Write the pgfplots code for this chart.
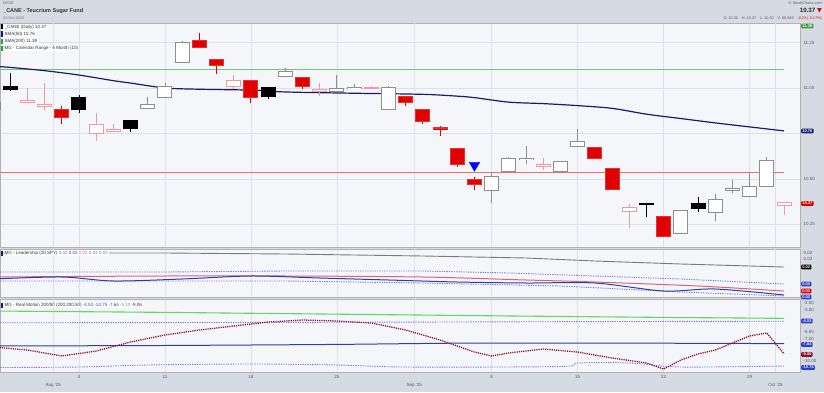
\documentclass[border=0pt]{standalone}
\usepackage{pgfplots}
\pgfplotsset{compat=1.18}
\usepackage{pgfplotstable}
\usepackage{fontspec}
\setmainfont{Liberation Sans}
\newfontfamily\djv{DejaVu Sans}
\definecolor{hdr}{HTML}{D6DAE2}
\definecolor{pbg}{HTML}{F5F6FA}
\definecolor{grd}{HTML}{DDE0E7}
\definecolor{navy}{HTML}{1B1B6B}
\definecolor{cgreen}{HTML}{78C078}
\definecolor{cred}{HTML}{E87070}
\definecolor{candred}{HTML}{E00000}
\definecolor{candredb}{HTML}{E83030}
\definecolor{candpink}{HTML}{EE9AA2}
\definecolor{candgrey}{HTML}{8E8E8E}
\definecolor{ldgrey}{HTML}{7A7A7A}
\definecolor{lblue}{HTML}{2B3FA8}
\definecolor{lred}{HTML}{E0607A}
\definecolor{ldot}{HTML}{7070E0}
\definecolor{rmgreen}{HTML}{66D466}
\definecolor{maroon}{HTML}{8B1030}
\definecolor{txtgrey}{HTML}{555A66}
\definecolor{tagblue}{HTML}{2A3FD0}
\definecolor{taggreen}{HTML}{3E9A3E}

\pgfplotstableread{
i O H L C
-4 11.01 11.08 10.985 10.99
0 10.95 10.96 10.86 10.88
3 10.82 10.82 10.76 10.78
11 11.00 11.00 10.94 10.955
33 10.365 10.365 10.29 10.358
36 10.365 10.40 10.32 10.34
}\blackc
\pgfplotstableread{
i O H L C
-1 10.88 10.90 10.80 10.835
7 11.26 11.30 11.22 11.225
8 11.155 11.16 11.075 11.125
10 11.04 11.045 10.92 10.945
13 11.06 11.06 10.995 11.01
19 10.955 10.955 10.90 10.92
20 10.88 10.88 10.80 10.815
21 10.78 10.79 10.735 10.77
22 10.67 10.67 10.565 10.58
23 10.495 10.51 10.44 10.467
30 10.675 10.675 10.61 10.615
31 10.56 10.56 10.44 10.44
34 10.295 10.295 10.18 10.185
}\redc
\pgfplotstableread{
i O H L C
-3 10.92 11.00 10.92 10.93
-2 10.90 11.03 10.88 10.91
1 10.75 10.86 10.71 10.80
2 10.76 10.80 10.76 10.77
9 11.01 11.07 10.995 11.04
14 10.98 11.03 10.955 10.99
17 10.995 11.01 10.995 11.00
27 10.57 10.615 10.55 10.58
32 10.32 10.36 10.23 10.345
41 10.355 10.37 10.30 10.37
}\pinkc
\pgfplotstableread{
i O H L C
-5 10.88 10.93 10.87 10.92
4 10.885 10.95 10.885 10.91
5 10.95 11.03 10.95 11.01
6 11.14 11.26 11.14 11.25
12 11.065 11.11 11.065 11.09
15 10.98 11.07 10.98 10.995
16 10.995 11.02 10.995 11.005
18 10.88 11.01 10.88 11.00
24 10.435 10.53 10.37 10.515
25 10.54 10.62 10.54 10.61
26 10.605 10.68 10.58 10.615
28 10.54 10.60 10.53 10.595
29 10.68 10.775 10.68 10.705
35 10.20 10.33 10.195 10.325
37 10.315 10.42 10.27 10.385
38 10.435 10.495 10.425 10.45
39 10.405 10.53 10.40 10.46
40 10.46 10.62 10.455 10.60
}\greyc

\newcommand\tf{\fontsize{4.5}{5}\selectfont}
\newcommand\candleset[4]{%
\addplot[draw=none, mark=none, forget plot, error bars/.cd, y dir=plus, y explicit, error mark=none,
  error bar style={draw=#2, line width=0.9pt, solid}]
  table[x=i, y=L, y error plus expr={\thisrow{H}-\thisrow{L}}] {#1};
\addplot[draw=none, mark=none, forget plot, error bars/.cd, y dir=plus, y explicit, error mark=none,
  error bar style={draw=#3, line width=15pt, solid}]
  table[x=i, y expr={min(\thisrow{O},\thisrow{C})-0.0028}, y error plus expr={abs(\thisrow{C}-\thisrow{O})+0.0056}] {#1};
\addplot[draw=none, mark=none, forget plot, error bars/.cd, y dir=plus, y explicit, error mark=none,
  error bar style={draw=#4, line width=13pt, solid}]
  table[x=i, y expr={min(\thisrow{O},\thisrow{C})+0.0028}, y error plus expr={max(abs(\thisrow{C}-\thisrow{O})-0.0056,0)}] {#1};
}

\pgfplotsset{
  panel/.style={scale only axis, width=800pt, xmin=-4.593, xmax=41.93,
    axis background/.style={fill=pbg}, axis line style={draw=gray!60, line width=0.5pt},
    xtick={0,5,10,15,24,29,34,39}, extra x ticks={-1.5,19.5,40.5},
    xmajorgrids, major grid style={draw=grd, line width=0.6pt},
    extra x tick style={grid=major, major grid style={draw=grd, line width=0.6pt}},
    tick style={draw=none}, yticklabel pos=right,
    ticklabel style={font=\tf, text=txtgrey},
    scaled y ticks=false,
    /pgf/number format/assume math mode=true, /pgf/number format/fixed,
    /pgf/number format/fixed zerofill, /pgf/number format/precision=2, clip=true},
}
\tikzset{
  tag/.style={fill=#1, text=white, font=\fontsize{4}{4.5}\selectfont\bfseries, inner xsep=1.2pt, inner ysep=1pt, rounded corners=1pt, anchor=west},
  lg/.style={anchor=west, fill=white, inner xsep=1pt, inner ysep=0.7pt, font=\tf, text=black!80}
}

\begin{document}
\begin{tikzpicture}[x=1pt,y=1pt]
\fill[hdr] (0,0) rectangle (824,392);

% ---------------- main price panel
\begin{axis}[panel, at={(0pt,145pt)}, anchor=south west, height=224pt,
  ymin=10.126, ymax=11.357, ytick={10.25,10.5,10.75,11,11.25},
  yticklabels={10.25,10.50,{},11.00,11.25}, ymajorgrids,
  xticklabels={}, extra x tick labels={}]
\addplot[cgreen, line width=1.3pt] coordinates {(-4.6,11.10) (41,11.10)};
\addplot[cred, line width=0.9pt] coordinates {(-4.6,10.533) (41,10.533)};
\addplot[navy, line width=1.2pt, smooth] coordinates {
(-5,11.12) (-4,11.113) (-2,11.095) (0,11.071) (2,11.04) (3,11.027) (5,11.00) (7,10.993)
(10,10.988) (12,10.978) (16,10.971) (20,10.965) (22,10.955) (23,10.947) (25,10.922)
(27,10.914) (29,10.903) (31,10.888) (33,10.856) (35,10.832) (37,10.808) (39,10.786) (41,10.764)};
\candleset{\greyc}{candgrey}{candgrey}{white}
\candleset{\pinkc}{candpink}{candpink}{white}
\candleset{\redc}{candred}{candredb}{candred}
\candleset{\blackc}{black}{black}{black}
\addplot[only marks, mark=triangle*, mark size=6pt, mark options={rotate=180, fill=blue, draw=blue}] coordinates {(23,10.575)};
\end{axis}

% ---------------- leadership panel
\begin{axis}[panel, at={(0pt,95pt)}, anchor=south west, height=48pt,
  ymin=0.0170, ymax=0.0218, ytick={0.0208,0.0214}, yticklabels={0.02,0.02},
  xticklabels={}, extra x tick labels={}]
\addplot[ldgrey, line width=0.9pt] coordinates {(-5,0.0214) (5,0.0214) (12,0.0213) (20,0.0211) (26,0.0209) (30,0.0206) (35,0.0203) (41,0.0200)};
\addplot[ldot, line width=0.9pt, dash pattern=on 1.2pt off 1.2pt] coordinates {(-5,0.0195) (5,0.0195) (12,0.0196) (20,0.0196) (25,0.0194) (30,0.0191) (35,0.0188) (41,0.0183)};
\addplot[ldot, line width=0.9pt, dash pattern=on 1.2pt off 1.2pt] coordinates {(-5,0.0186) (5,0.0186) (12,0.0186) (20,0.0184) (28,0.0181) (35,0.0175) (41,0.0171)};
\addplot[lred, line width=1pt, smooth] coordinates {(-5,0.0190) (5,0.0191) (12,0.0191) (20,0.0190) (26,0.0187) (30,0.0185) (36,0.0181) (41,0.0176)};
\addplot[lblue, line width=1pt, smooth] coordinates {(-5,0.0188) (-1,0.0190) (2,0.0186) (6,0.0188) (10,0.0191) (14,0.0189) (18,0.0187) (22,0.0185) (26,0.0184) (30,0.0184) (34,0.0176) (37,0.0178) (41,0.0172)};
\end{axis}

% ---------------- real motion panel
\begin{axis}[panel, at={(0pt,20pt)}, anchor=south west, height=73pt,
  ymin=-11.583, ymax=-1.444, ytick={-10,-7,-6,-3,-2},
  xticklabels={4,11,18,25,8,15,22,29},
  extra x tick labels={Aug '25,Sep '25,Oct '25},
  extra x tick style={xticklabel style={yshift=-8pt}},
  x tick label style={font=\tf, text=txtgrey}]
\addplot[rmgreen, line width=1.1pt] coordinates {(-5,-3.11) (5,-3.30) (15,-3.55) (25,-3.80) (35,-4.02) (41,-4.13)};
\addplot[ldot, line width=0.9pt, dash pattern=on 1.2pt off 1.2pt] coordinates {(-5,-4.75) (10,-4.70) (20,-4.65) (30,-4.58) (41,-4.53)};
\addplot[lblue, line width=1pt, smooth] coordinates {(-5,-7.97) (5,-7.90) (15,-7.75) (22,-7.58) (30,-7.56) (41,-7.64)};
\addplot[ldot, line width=0.9pt, dash pattern=on 1.2pt off 1.2pt, smooth] coordinates {(-5,-10.96) (0,-10.89) (4,-10.61) (10,-10.47) (15,-10.61) (19,-10.89) (28,-10.82) (29,-10.33) (32,-10.33) (35,-10.89) (41,-10.75)};
\addplot[maroon, line width=1.3pt, dash pattern=on 1.2pt off 1pt] coordinates {
(-5,-8.11) (-3,-8.53) (-1,-9.36) (1,-8.67) (3,-7.42) (5,-6.44) (7,-5.75) (9,-5.19) (11,-4.64)
(13,-4.36) (15,-4.50) (17,-4.78) (19,-5.75) (21,-7.14) (23,-8.81) (24,-9.36) (25,-8.94) (27,-8.39)
(29,-8.81) (31,-9.64) (33,-10.33) (34,-11.17) (35,-9.92) (36,-9.08) (37,-8.53) (38,-7.56) (39,-6.58) (40,-6.17) (41,-9.06)};
\end{axis}

% ---------------- panel legends
\node[lg] at (3.5,365) {\_CANE (Daily) 10.37};
\fill[black] (1,362.5) rectangle (2.6,367.5);
\node[lg] at (3.5,358) {SMA(50) 10.76};
\fill[navy] (1,355.5) rectangle (2.6,360.5);
\node[lg] at (3.5,350.7) {SMA(200) 11.39};
\fill[taggreen] (1,348.2) rectangle (2.6,353.2);
\node[lg] at (3.5,343.3) {MG - Calendar Range - 6 Month (10)};
\fill[taggreen] (1,340.8) rectangle (2.6,345.8);

\node[lg] at (3.5,139) {MG - Leadership (20,SPY) \textcolor{ldot}{0.02} \textcolor{lblue}{0.02} \textcolor{lred}{0.02} \textcolor{ldgrey}{0.02} \textcolor{ldgrey}{0.02}};
\fill[navy] (1,136.5) rectangle (2.6,141.5);
\node[lg] at (3.5,86.5) {MG - Real Motion 200/50 (200,200,50) \textcolor{tagblue}{-4.53} \textcolor{tagblue}{-10.75} \textcolor{tagblue}{-7.64} \textcolor{rmgreen!80!black}{-4.13} \textcolor{maroon}{-9.06}};
\fill[navy] (1,84) rectangle (2.6,89);

% ---------------- right-hand value tags
\node[tag=taggreen] at (801,366) {11.39};
\node[tag=navy] at (801,261) {10.76};
\node[tag=candred] at (801,188.5) {10.37};
\node[tag=black] at (801,125) {0.02};
\node[tag=tagblue] at (801,108) {0.02};
\node[tag=candred] at (801,101) {0.02};
\node[tag=tagblue] at (801,95) {0.02};
\node[tag=tagblue] at (801,71) {-4.53};
\node[tag=tagblue] at (801,47.5) {-7.64};
\node[tag=maroon] at (801,37.5) {-9.06};
\node[tag=tagblue] at (801,24.5) {-10.75};

% ---------------- header
\node[anchor=west, inner sep=0pt, font=\fontsize{3.8}{4}\selectfont, text=txtgrey] at (3,388.5) {NYSE};
\node[anchor=west, inner sep=0pt, font=\fontsize{5.5}{6}\selectfont\bfseries, text=black!80] at (3,381) {\_CANE - Teucrium Sugar Fund};
\node[anchor=west, inner sep=0pt, font=\fontsize{3.8}{4}\selectfont, text=txtgrey!80] at (3,373.5) {01-Oct-2025};
\node[anchor=east, inner sep=0pt, font=\fontsize{3.8}{4}\selectfont, text=txtgrey] at (822,388.5) {{\djv ©} StockCharts.com};
\node[anchor=east, inner sep=0pt, font=\fontsize{6.2}{6.5}\selectfont\bfseries, text=black!85] at (822,381) {10.37 {\djv\textcolor{candred}{▼}}};
\node[anchor=east, inner sep=0pt, font=\fontsize{3.8}{4}\selectfont, text=txtgrey] at (822,373.5) {O: 10.36\quad H: 10.37\quad L: 10.30\quad V: 69,949\quad \textcolor{candred}{-0.23 (-2.17\%)}};
\pgfresetboundingbox
\useasboundingbox (0,0) rectangle (824,392);
\end{tikzpicture}
\end{document}
